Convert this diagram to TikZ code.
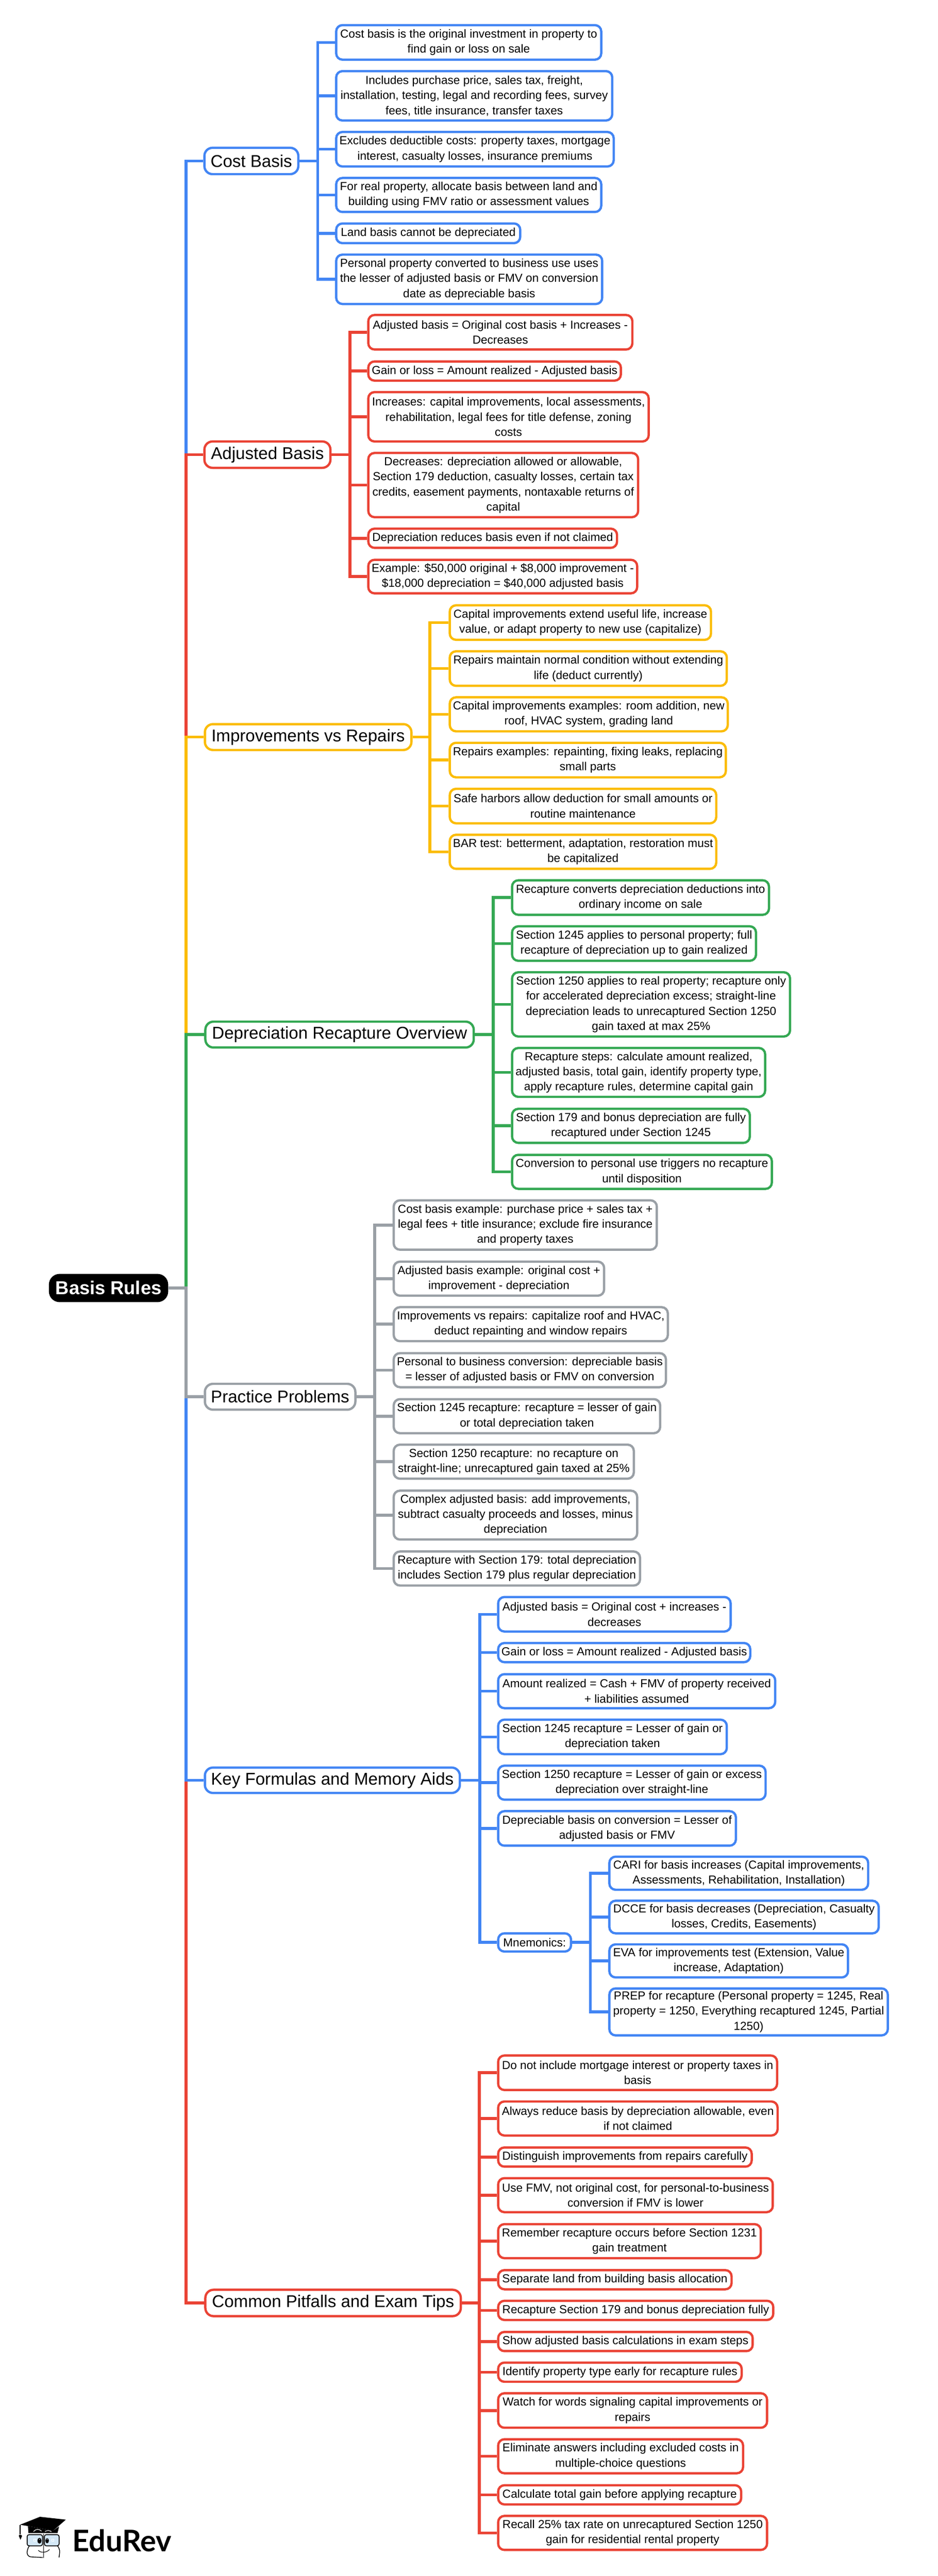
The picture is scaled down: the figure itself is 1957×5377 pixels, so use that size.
\documentclass[tikz,border=0pt]{standalone}
\usepackage{fontspec}
\setmainfont{Liberation Sans}
\newfontfamily\logofont{Lato}
\definecolor{cblue}{HTML}{4285F4}
\definecolor{cred}{HTML}{EA4335}
\definecolor{cyel}{HTML}{FBBC04}
\definecolor{cgrn}{HTML}{34A853}
\definecolor{cgry}{HTML}{9AA0A6}
\definecolor{cglass}{HTML}{D4E8F6}
\tikzset{
  boxbase/.style={rounded corners=13pt,line width=4.8pt,inner sep=0pt,align=center,text=black,fill=white,anchor=center},
  leaf/.style={boxbase,draw=#1,font=\fontsize{24.3}{31.5}\selectfont},
  topic/.style={boxbase,draw=#1,rounded corners=17pt,font=\fontsize{35.6}{40}\selectfont},
  rootbox/.style={rounded corners=22pt,fill=black,draw=black,line width=1pt,inner sep=0pt,text=white,anchor=center,font=\fontsize{39}{44}\selectfont\bfseries},
  link/.style={draw=#1,line width=6pt,line join=miter,line cap=butt},
}
\newcommand{\bx}[7]{%
  \pgfmathsetmacro\bxcx{(#3+#4)/2}%
  \pgfmathsetmacro\bxcy{(#5+#6)/2}%
  \pgfmathsetmacro\bxw{#4-#3-5}%
  \pgfmathsetmacro\bxh{#6-#5-5}%
  \node[#1,minimum width=\bxw pt,minimum height=\bxh pt] (#2) at (\bxcx,\bxcy) {#7};}
\newcommand{\lk}[4]{\draw[link=#1] (#2.east) -- (#2.east -| #3) |- (#4.west);}
\begin{document}
\begin{tikzpicture}[x=1pt,y=-1pt]
\useasboundingbox (0,0) rectangle (1957,5377);
\fill[white] (0,0) rectangle (1957,5377);
\coordinate (tr) at (388,0);
\coordinate (bc) at (663,0);
\coordinate (ba) at (730,0);
\coordinate (bi) at (897,0);
\coordinate (bd) at (1029,0);
\coordinate (bp) at (782,0);
\coordinate (bk) at (1001,0);
\coordinate (bm) at (1232,0);
\coordinate (bt) at (1000,0);
% root and topics
\bx{rootbox}{root}{100}{353}{2657}{2720}{Basis Rules}
\bx{topic=cblue}{C}{424}{625}{306}{366}{Cost Basis}
\bx{topic=cred}{A}{424}{692}{919}{979}{Adjusted Basis}
\bx{topic=cyel}{I}{425}{861}{1509}{1568}{Improvements vs Repairs}
\bx{topic=cgrn}{D}{426}{991}{2130}{2189}{Depreciation Recapture Overview}
\bx{topic=cgry}{P}{425}{744}{2886}{2945}{Practice Problems}
\bx{topic=cblue}{K}{425}{962}{3687}{3745}{Key Formulas and Memory Aids}
\bx{topic=cred}{T}{426}{964}{4777}{4837}{Common Pitfalls and Exam Tips}
% cost basis
\bx{leaf=cblue}{C1}{699}{1257}{50}{127}{Cost basis is the original investment in property to\\find gain or loss on sale}
\bx{leaf=cblue}{C2}{699}{1280}{146}{254}{Includes purchase price, sales tax, freight,\\installation, testing, legal and recording fees, survey\\fees, title insurance, transfer taxes}
\bx{leaf=cblue}{C3}{699}{1283}{273}{350}{Excludes deductible costs: property taxes, mortgage\\interest, casualty losses, insurance premiums}
\bx{leaf=cblue}{C4}{699}{1257}{369}{445}{For real property, allocate basis between land and\\building using FMV ratio or assessment values}
\bx{leaf=cblue}{C5}{699}{1088}{464}{510}{Land basis cannot be depreciated}
\bx{leaf=cblue}{C6}{699}{1259}{529}{637}{Personal property converted to business use uses\\the lesser of adjusted basis or FMV on conversion\\date as depreciable basis}
% adjusted
\bx{leaf=cred}{A1}{766}{1322}{655}{732}{Adjusted basis = Original cost basis + Increases -\\Decreases}
\bx{leaf=cred}{A2}{766}{1298}{752}{797}{Gain or loss = Amount realized - Adjusted basis}
\bx{leaf=cred}{A3}{766}{1356}{816}{924}{Increases: capital improvements, local assessments,\\rehabilitation, legal fees for title defense, zoning\\costs}
\bx{leaf=cred}{A4}{766}{1334}{943}{1082}{Decreases: depreciation allowed or allowable,\\Section 179 deduction, casualty losses, certain tax\\credits, easement payments, nontaxable returns of\\capital}
\bx{leaf=cred}{A5}{766}{1290}{1101}{1146}{Depreciation reduces basis even if not claimed}
\bx{leaf=cred}{A6}{766}{1332}{1166}{1241}{Example: \$50,000 original + \$8,000 improvement -\\\$18,000 depreciation = \$40,000 adjusted basis}
% improvements
\bx{leaf=cyel}{I1}{936}{1486}{1261}{1338}{Capital improvements extend useful life, increase\\value, or adapt property to new use (capitalize)}
\bx{leaf=cyel}{I2}{936}{1519}{1357}{1434}{Repairs maintain normal condition without extending\\life (deduct currently)}
\bx{leaf=cyel}{I3}{936}{1521}{1453}{1529}{Capital improvements examples: room addition, new\\roof, HVAC system, grading land}
\bx{leaf=cyel}{I4}{936}{1517}{1548}{1625}{Repairs examples: repainting, fixing leaks, replacing\\small parts}
\bx{leaf=cyel}{I5}{936}{1497}{1644}{1721}{Safe harbors allow deduction for small amounts or\\routine maintenance}
\bx{leaf=cyel}{I6}{936}{1497}{1740}{1816}{BAR test: betterment, adaptation, restoration must\\be capitalized}
% recapture
\bx{leaf=cgrn}{D1}{1066}{1607}{1835}{1912}{Recapture converts depreciation deductions into\\ordinary income on sale}
\bx{leaf=cgrn}{D2}{1066}{1580}{1931}{2008}{Section 1245 applies to personal property; full\\recapture of depreciation up to gain realized}
\bx{leaf=cgrn}{D3}{1066}{1651}{2027}{2166}{Section 1250 applies to real property; recapture only\\for accelerated depreciation excess; straight-line\\depreciation leads to unrecaptured Section 1250\\gain taxed at max 25\%}
\bx{leaf=cgrn}{D4}{1066}{1599}{2185}{2292}{Recapture steps: calculate amount realized,\\adjusted basis, total gain, identify property type,\\apply recapture rules, determine capital gain}
\bx{leaf=cgrn}{D5}{1066}{1567}{2312}{2388}{Section 179 and bonus depreciation are fully\\recaptured under Section 1245}
\bx{leaf=cgrn}{D6}{1066}{1613}{2408}{2484}{Conversion to personal use triggers no recapture\\until disposition}
% practice
\bx{leaf=cgry}{P1}{819}{1373}{2503}{2611}{Cost basis example: purchase price + sales tax +\\legal fees + title insurance; exclude fire insurance\\and property taxes}
\bx{leaf=cgry}{P2}{819}{1263}{2631}{2707}{Adjusted basis example: original cost +\\improvement - depreciation}
\bx{leaf=cgry}{P3}{819}{1396}{2726}{2802}{Improvements vs repairs: capitalize roof and HVAC,\\deduct repainting and window repairs}
\bx{leaf=cgry}{P4}{819}{1392}{2822}{2898}{Personal to business conversion: depreciable basis\\= lesser of adjusted basis or FMV on conversion}
\bx{leaf=cgry}{P5}{819}{1380}{2918}{2994}{Section 1245 recapture: recapture = lesser of gain\\or total depreciation taken}
\bx{leaf=cgry}{P6}{819}{1325}{3013}{3089}{Section 1250 recapture: no recapture on\\straight-line; unrecaptured gain taxed at 25\%}
\bx{leaf=cgry}{P7}{819}{1332}{3109}{3216}{Complex adjusted basis: add improvements,\\subtract casualty proceeds and losses, minus\\depreciation}
\bx{leaf=cgry}{P8}{819}{1338}{3236}{3312}{Recapture with Section 179: total depreciation\\includes Section 179 plus regular depreciation}
% key formulas
\bx{leaf=cblue}{K1}{1037}{1527}{3331}{3408}{Adjusted basis = Original cost + increases -\\decreases}
\bx{leaf=cblue}{K2}{1037}{1568}{3427}{3472}{Gain or loss = Amount realized - Adjusted basis}
\bx{leaf=cblue}{K3}{1037}{1620}{3492}{3568}{Amount realized = Cash + FMV of property received\\+ liabilities assumed}
\bx{leaf=cblue}{K4}{1037}{1519}{3587}{3664}{Section 1245 recapture = Lesser of gain or\\depreciation taken}
\bx{leaf=cblue}{K5}{1037}{1600}{3683}{3759}{Section 1250 recapture = Lesser of gain or excess\\depreciation over straight-line}
\bx{leaf=cblue}{K6}{1037}{1538}{3778}{3855}{Depreciable basis on conversion = Lesser of\\adjusted basis or FMV}
\bx{leaf=cblue}{K7}{1037}{1194}{4033}{4076}{Mnemonics:}
\bx{leaf=cblue}{M1}{1269}{1814}{3873}{3947}{CARI for basis increases (Capital improvements,\\Assessments, Rehabilitation, Installation)}
\bx{leaf=cblue}{M2}{1269}{1836}{3965}{4038}{DCCE for basis decreases (Depreciation, Casualty\\losses, Credits, Easements)}
\bx{leaf=cblue}{M3}{1269}{1772}{4056}{4130}{EVA for improvements test (Extension, Value\\increase, Adaptation)}
\bx{leaf=cblue}{M4}{1269}{1855}{4148}{4251}{PREP for recapture (Personal property = 1245, Real\\property = 1250, Everything recaptured 1245, Partial\\1250)}
% pitfalls
\bx{leaf=cred}{T1}{1037}{1624}{4288}{4365}{Do not include mortgage interest or property taxes in\\basis}
\bx{leaf=cred}{T2}{1037}{1625}{4384}{4460}{Always reduce basis by depreciation allowable, even\\if not claimed}
\bx{leaf=cred}{T3}{1037}{1571}{4480}{4525}{Distinguish improvements from repairs carefully}
\bx{leaf=cred}{T4}{1037}{1615}{4544}{4620}{Use FMV, not original cost, for personal-to-business\\conversion if FMV is lower}
\bx{leaf=cred}{T5}{1037}{1590}{4640}{4716}{Remember recapture occurs before Section 1231\\gain treatment}
\bx{leaf=cred}{T6}{1037}{1529}{4736}{4781}{Separate land from building basis allocation}
\bx{leaf=cred}{T7}{1037}{1616}{4800}{4845}{Recapture Section 179 and bonus depreciation fully}
\bx{leaf=cred}{T8}{1037}{1573}{4865}{4910}{Show adjusted basis calculations in exam steps}
\bx{leaf=cred}{T9}{1037}{1550}{4929}{4974}{Identify property type early for recapture rules}
\bx{leaf=cred}{T10}{1037}{1603}{4993}{5070}{Watch for words signaling capital improvements or\\repairs}
\bx{leaf=cred}{T11}{1037}{1553}{5089}{5165}{Eliminate answers including excluded costs in\\multiple-choice questions}
\bx{leaf=cred}{T12}{1037}{1549}{5185}{5230}{Calculate total gain before applying recapture}
\bx{leaf=cred}{T13}{1037}{1603}{5249}{5325}{Recall 25\% tax rate on unrecaptured Section 1250\\gain for residential rental property}
% connectors
\foreach \n in {C1,C2,C3,C4,C5,C6}{\lk{cblue}{C}{bc}{\n}}
\foreach \n in {A1,A2,A3,A4,A5,A6}{\lk{cred}{A}{ba}{\n}}
\foreach \n in {I1,I2,I3,I4,I5,I6}{\lk{cyel}{I}{bi}{\n}}
\foreach \n in {D1,D2,D3,D4,D5,D6}{\lk{cgrn}{D}{bd}{\n}}
\foreach \n in {P1,P2,P3,P4,P5,P6,P7,P8}{\lk{cgry}{P}{bp}{\n}}
\foreach \n in {K1,K2,K3,K4,K5,K6,K7}{\lk{cblue}{K}{bk}{\n}}
\foreach \n in {M1,M2,M3,M4}{\lk{cblue}{K7}{bm}{\n}}
\foreach \n in {T1,T2,T3,T4,T5,T6,T7,T8,T9,T10,T11,T12,T13}{\lk{cred}{T}{bt}{\n}}
\lk{cblue}{root}{tr}{C}
\lk{cred}{root}{tr}{A}
\lk{cyel}{root}{tr}{I}
\lk{cgrn}{root}{tr}{D}
\lk{cred}{root}{tr}{T}
\lk{cblue}{root}{tr}{K}
\lk{cgry}{root}{tr}{P}
% logo
\node[anchor=base west,inner sep=0pt,font=\fontsize{62}{62}\selectfont\logofont\bfseries] (logo) at (151,5326) {EduRev};
\begin{scope}[shift={(20,5240)},x=0.3333pt,y=-0.3333pt]
  \fill[black] (65,90) -- (190,40) -- (352,58) -- (272,128) -- (115,98) -- cycle;
  \fill[black] (115,98) -- (118,142) -- (300,142) -- (310,100) -- (272,128) -- cycle;
  \draw[black,line width=1.2pt] (66,90) -- (66,150);
  \fill[black] (60,153) -- (72,153) -- (78,160) -- (68,184) -- (58,160) -- cycle;
  \draw[white,line width=1.2pt] (150,132) .. controls (165,115) and (185,115) .. (200,130);
  \draw[white,line width=1.2pt] (222,132) .. controls (235,124) and (250,124) .. (262,134);
  \draw[black,fill=cglass,line width=1.8pt,rounded corners=4pt] (110,152) rectangle (206,222);
  \draw[black,fill=cglass,line width=1.8pt,rounded corners=4pt] (218,152) rectangle (310,222);
  \fill[black] (187,190) ellipse (13 and 18);
  \fill[black] (235,190) ellipse (11 and 16);
  \fill[white] (187,181) circle (3);
  \fill[white] (235,181) circle (3);
  \draw[white,line width=.6pt] (150,178) rectangle (164,192);
  \draw[white,line width=.6pt] (262,178) rectangle (276,192);
  \draw[black,line width=1.5pt,rounded corners=8pt] (122,224) -- (110,238) -- (110,290) -- (207,295);
  \draw[black,line width=1.5pt,rounded corners=8pt] (302,224) -- (316,238) -- (310,295);
  \draw[black,line width=1.4pt] (212,145) -- (212,298);
  \draw[black,line width=1.2pt] (180,250) .. controls (195,268) and (230,266) .. (250,245);
\end{scope}
\end{tikzpicture}
\end{document}
